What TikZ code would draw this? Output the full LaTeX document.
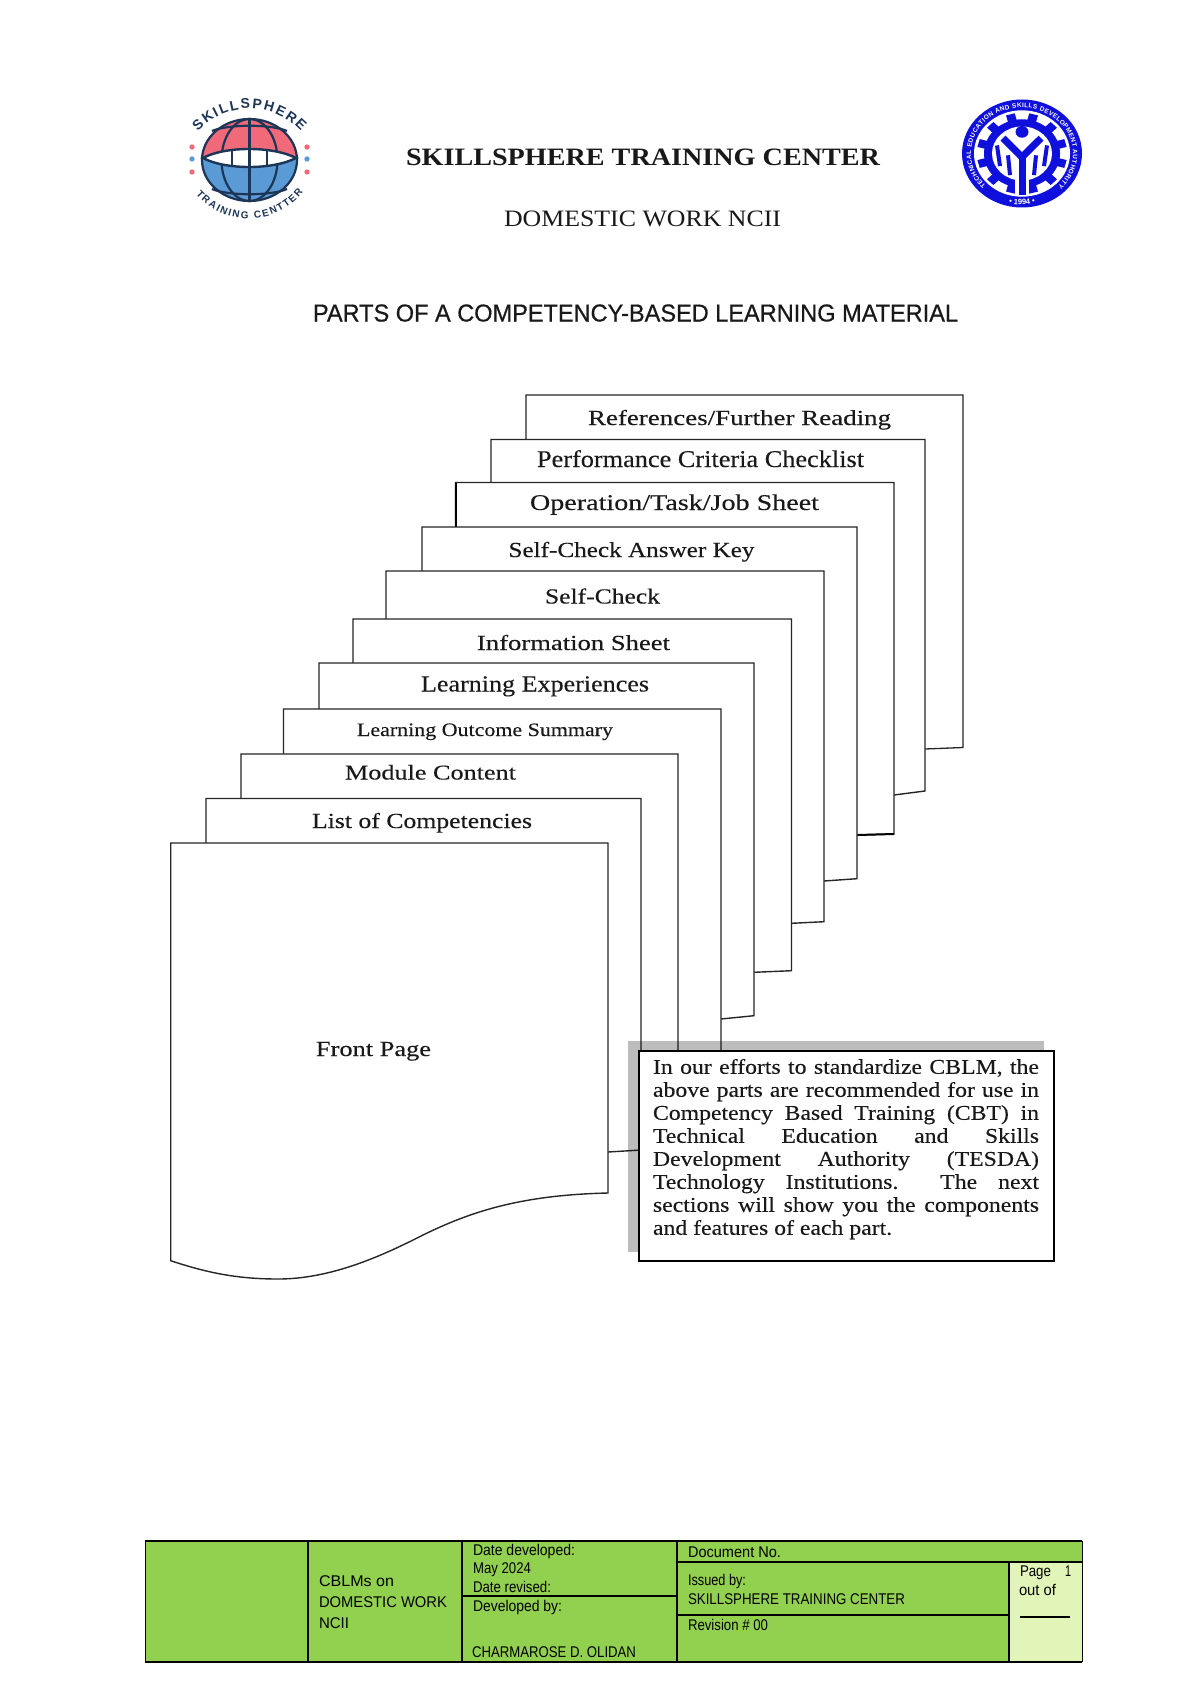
\documentclass[tikz,border=0pt]{standalone}
\usepackage{fontspec}
\usepackage{graphicx}
\usetikzlibrary{decorations.text}
\setmainfont{Liberation Serif}
\newfontfamily\sansf{Liberation Sans}
\newfontfamily\partsf[FakeBold=0.6]{Liberation Sans}
\newfontfamily\labf[FakeBold=0.2]{Liberation Serif}
\newfontfamily\bookf[FakeStretch=1.13,FakeBold=0.2]{Liberation Serif}
\definecolor{footgreen}{HTML}{92D050}
\definecolor{footlight}{HTML}{E2F5B8}
\definecolor{navy}{HTML}{1D3557}
\definecolor{lpink}{HTML}{F06A7A}
\definecolor{lblue}{HTML}{5B9BD5}
\definecolor{tblue}{HTML}{1010DC}
\newcommand\fitw[3]{\fontsize{#2}{#2}\selectfont\resizebox{#1pt}{\height}{#3}}
\newcommand\pagesheet[7]{% l t r b nextr bl thickness
  \draw[sheet,line width=#7pt] (#1,#6) -- (#1,#2) -- (#3,#2) -- (#3,#4) -- (#5,#6) -- cycle;}
\tikzset{
  sheet/.style={draw=black!85,fill=white,line join=miter},
  lab/.style={anchor=base west,inner sep=0pt,outer sep=0pt,text=black!90},
  foot/.style={anchor=base west,inner sep=0pt,outer sep=0pt,font=\sansf,text=black},
  footline/.style={draw=black,line width=1.2pt},
}
\begin{document}
\begin{tikzpicture}[x=1pt,y=-1pt]
\useasboundingbox (0,0) rectangle (1200,1696);
\fill[white] (0,0) rectangle (1200,1696);

% --- headings
\node[lab] (title) at (406,165.5) {\bfseries\fitw{474}{25}{SKILLSPHERE TRAINING CENTER}};
\node[lab] (sub) at (504,227) {\fitw{277}{23.5}{DOMESTIC WORK NCII}};
\node[lab,font=\partsf] (parts) at (313,321.5) {\fitw{645}{24.5}{PARTS OF A COMPETENCY-BASED LEARNING MATERIAL}};

% --- left logo
\begin{scope}
  \clip (249.5,160) ellipse [x radius=47.5,y radius=41];
  \fill[lpink] (200,115) rectangle (300,160);
  \fill[lblue] (200,160) rectangle (300,205);
\end{scope}
\begin{scope}[navy,line width=2.2pt]
  \draw (249.5,160) ellipse [x radius=47.5,y radius=41];
  \draw (249.5,160) ellipse [x radius=28,y radius=41];
  \draw (249.5,119) -- (249.5,201);
  \draw (212,131) .. controls (228,124) and (271,124) .. (287,131);
  \draw (212,189) .. controls (228,196) and (271,196) .. (287,189);
\end{scope}
\fill[white,draw=navy,line width=2.4pt] (203,158) .. controls (225,146) and (273,146) .. (296,158) .. controls (273,170) and (225,170) .. (203,158) -- cycle;
\draw[navy,line width=2.2pt] (232,150) -- (232,166) (249.5,148) -- (249.5,168) (267,150) -- (267,166);
\foreach \lx in {192,307}{
  \fill[lpink] (\lx,147) circle (2.7);
  \fill[lblue] (\lx,159) circle (2.7);
  \fill[lpink] (\lx,172) circle (2.7);
}
\path[decorate,decoration={text along path,text align={fit to path},
  text={|\sansf\bfseries\fontsize{14}{14}\selectfont\color{navy}|SKILLSPHERE}}]
  (198,131.5) .. controls (226,101) and (273,101) .. (301,131.5);
\path[decorate,decoration={text along path,text align={fit to path},
  text={|\sansf\bfseries\fontsize{10}{10}\selectfont\color{navy}|TRAINING CENTTER}}]
  (196,194) .. controls (224,227) and (275,227) .. (303,192);

% --- right logo
\begin{scope}[shift={(1022,153.5)},yscale=0.9]
  \fill[tblue] (0,0) circle (60);
  \fill[white] (0,0) circle (48);
  \foreach \a in {15,45,...,345}{
    \fill[tblue,rotate=\a] (-4.5,-45) rectangle (4.5,-34);
  }
  \fill[tblue] (0,0) circle (38);
  \fill[white] (0,0) circle (30);
  \fill[white] (-7,25) rectangle (7,46);
  % figure
  \fill[tblue] (0,-24) circle (6.5);
  \draw[tblue,line width=7pt] (-19,-17) -- (0,4) -- (19,-17);
  \draw[tblue,line width=7pt] (0,4) -- (0,46);
  \draw[tblue,line width=4pt] (-25,-9) -- (-22,14) (25,-9) -- (22,14);
  \draw[tblue,line width=4pt] (-14,2) -- (-12,24) (14,2) -- (12,24);
  \path[decorate,decoration={text along path,text align={fit to path},
    text={|\sansf\bfseries\fontsize{6.4}{6.4}\selectfont\color{white}|TECHNICAL EDUCATION AND SKILLS DEVELOPMENT AUTHORITY}}]
    plot[domain=-225:45,samples=90] ({51*cos(\x)},{51*sin(\x)});
  \path[decorate,decoration={text along path,text align=center,
    text={|\sansf\bfseries\fontsize{7.6}{7.6}\selectfont\color{white}|•  1994  •}}]
    plot[domain=130:50,samples=40] ({57*cos(\x)},{57*sin(\x)});
\end{scope}

% --- sheets, back to front
\pagesheet{526}{395}{963}{747.5}{925}{749}{1.3}
\pagesheet{491}{439.5}{925}{791}{894}{795}{1.4}
\pagesheet{455.5}{482.5}{894}{834}{857}{835}{1.4}
\draw[black,line width=2pt] (455.5,482.5) -- (455.5,527);
\draw[black,line width=2pt] (857,835) -- (894,834);
\pagesheet{422}{527}{857}{878.7}{824}{881}{1.4}
\pagesheet{386}{571}{824}{921.7}{791.5}{923.3}{1.4}
\pagesheet{353}{619}{791.5}{970.7}{754}{972.3}{1.4}
\pagesheet{319}{663}{754}{1015.7}{721}{1019}{1.4}
\pagesheet{283.5}{709}{721}{1120}{678}{1122}{1.4}
\pagesheet{241}{754}{678}{1120}{641}{1122}{1.4}
\pagesheet{206}{798.5}{641}{1150}{608}{1152}{1.4}
\draw[sheet,line width=1.4pt] (170.7,843) -- (608,843) -- (608,1193)
  .. controls (520,1195) and (470,1212) .. (423,1235)
  .. controls (380,1257) and (330,1279) .. (278,1279)
  .. controls (235,1279) and (205,1272) .. (170.7,1260.7) -- cycle;

% --- sheet labels
\node[lab,font=\labf] (refs) at (588,425) {\fitw{303}{21.5}{References/Further Reading}};
\node[lab,font=\labf] (perf) at (537,467) {\fitw{327}{24}{Performance Criteria Checklist}};
\node[lab,font=\labf] (oper) at (530,510) {\fitw{289}{22.5}{Operation/Task/Job Sheet}};
\node[lab,font=\labf] (scak) at (508.5,557) {\fitw{246}{21.5}{Self-Check Answer Key}};
\node[lab,font=\labf] (schk) at (545,603.5) {\fitw{115}{21.5}{Self-Check}};
\node[lab,font=\labf] (info) at (477,650) {\fitw{193}{21.5}{Information Sheet}};
\node[lab,font=\labf] (lexp) at (421,691.5) {\fitw{228}{23}{Learning Experiences}};
\node[lab,font=\labf] (lout) at (357,736) {\fitw{256}{19}{Learning Outcome Summary}};
\node[lab,font=\labf] (modc) at (345,779.5) {\fitw{171}{21}{Module Content}};
\node[lab,font=\labf] (lcom) at (312,828) {\fitw{220}{21.5}{List of Competencies}};
\node[lab,font=\labf] (fpag) at (316,1056) {\fitw{115}{21.5}{Front Page}};

% --- note box with its shadow
\fill[black,fill opacity=0.26] (628,1041) rectangle (1044,1252);
\node[draw=black,line width=1.2pt,fill=white,anchor=north west,inner sep=0pt,outer sep=0pt,
      minimum width=415pt,minimum height=210pt] (note) at (639,1051) {};
\node[anchor=north west,inner sep=0pt,outer sep=0pt,text width=386pt,align=justify,text=black!90] (notetext) at (653,1059)
  {\bookf\fontsize{21}{23}\selectfont
   In our efforts to standardize CBLM, the\linebreak
   above parts are recommended for use in\linebreak
   Competency Based Training (CBT) in\linebreak
   Technical Education and Skills\linebreak
   Development Authority (TESDA)\linebreak
   Technology Institutions.\ \ The next\linebreak
   sections will show you the components\linebreak
   and features of each part.\par};

% --- footer
\fill[footgreen] (145,1541) rectangle (1082,1662);
\fill[footlight] (1009,1562) rectangle (1082,1662);
\draw[footline,line width=1.5pt] (145,1541) -- (1082,1541);
\draw[footline,line width=1.5pt] (145,1662) -- (1082,1662);
\draw[footline,line width=0.8pt] (145,1541) -- (145,1662);
\draw[footline,line width=0.8pt] (1082,1541) -- (1082,1662);
\draw[footline] (308,1541) -- (308,1662);
\draw[footline] (462,1541) -- (462,1662);
\draw[footline] (677,1541) -- (677,1662);
\draw[footline] (1009,1562) -- (1009,1662);
\draw[footline] (677,1562) -- (1082,1562);
\draw[footline] (462,1596) -- (677,1596);
\draw[footline] (677,1615) -- (1009,1615);
\draw[footline] (1020,1617) -- (1070,1617);

\node[foot] (f1) at (319,1586.5) {\fitw{75}{15.5}{CBLMs on}};
\node[foot] (f2) at (319,1607) {\fitw{128}{15.5}{DOMESTIC WORK}};
\node[foot] (f3) at (319,1628) {\fitw{30}{15.5}{NCII}};
\node[foot] (f4) at (473,1555) {\fitw{102}{15.5}{Date developed:}};
\node[foot] (f5) at (473,1573) {\fitw{58}{15.5}{May 2024}};
\node[foot] (f6) at (473,1592.5) {\fitw{78}{15.5}{Date revised:}};
\node[foot] (f7) at (473,1611.5) {\fitw{89}{15.5}{Developed by:}};
\node[foot] (f8) at (472,1657) {\fitw{164}{15.5}{CHARMAROSE D. OLIDAN}};
\node[foot] (f9) at (688,1557.5) {\fitw{93}{15.5}{Document No.}};
\node[foot] (f10) at (688,1585) {\fitw{58}{15.5}{Issued by:}};
\node[foot] (f11) at (688,1604) {\fitw{217}{15.5}{SKILLSPHERE TRAINING CENTER}};
\node[foot] (f12) at (688,1630) {\fitw{80}{15.5}{Revision \# 00}};
\node[foot] (f13) at (1020,1576.5) {\fitw{31}{15.5}{Page}};
\node[foot] (f14) at (1065,1576.5) {\fitw{6}{15.5}{1}};
\node[foot] (f15) at (1019,1595) {\fitw{37}{15.5}{out of}};
\end{tikzpicture}
\end{document}
